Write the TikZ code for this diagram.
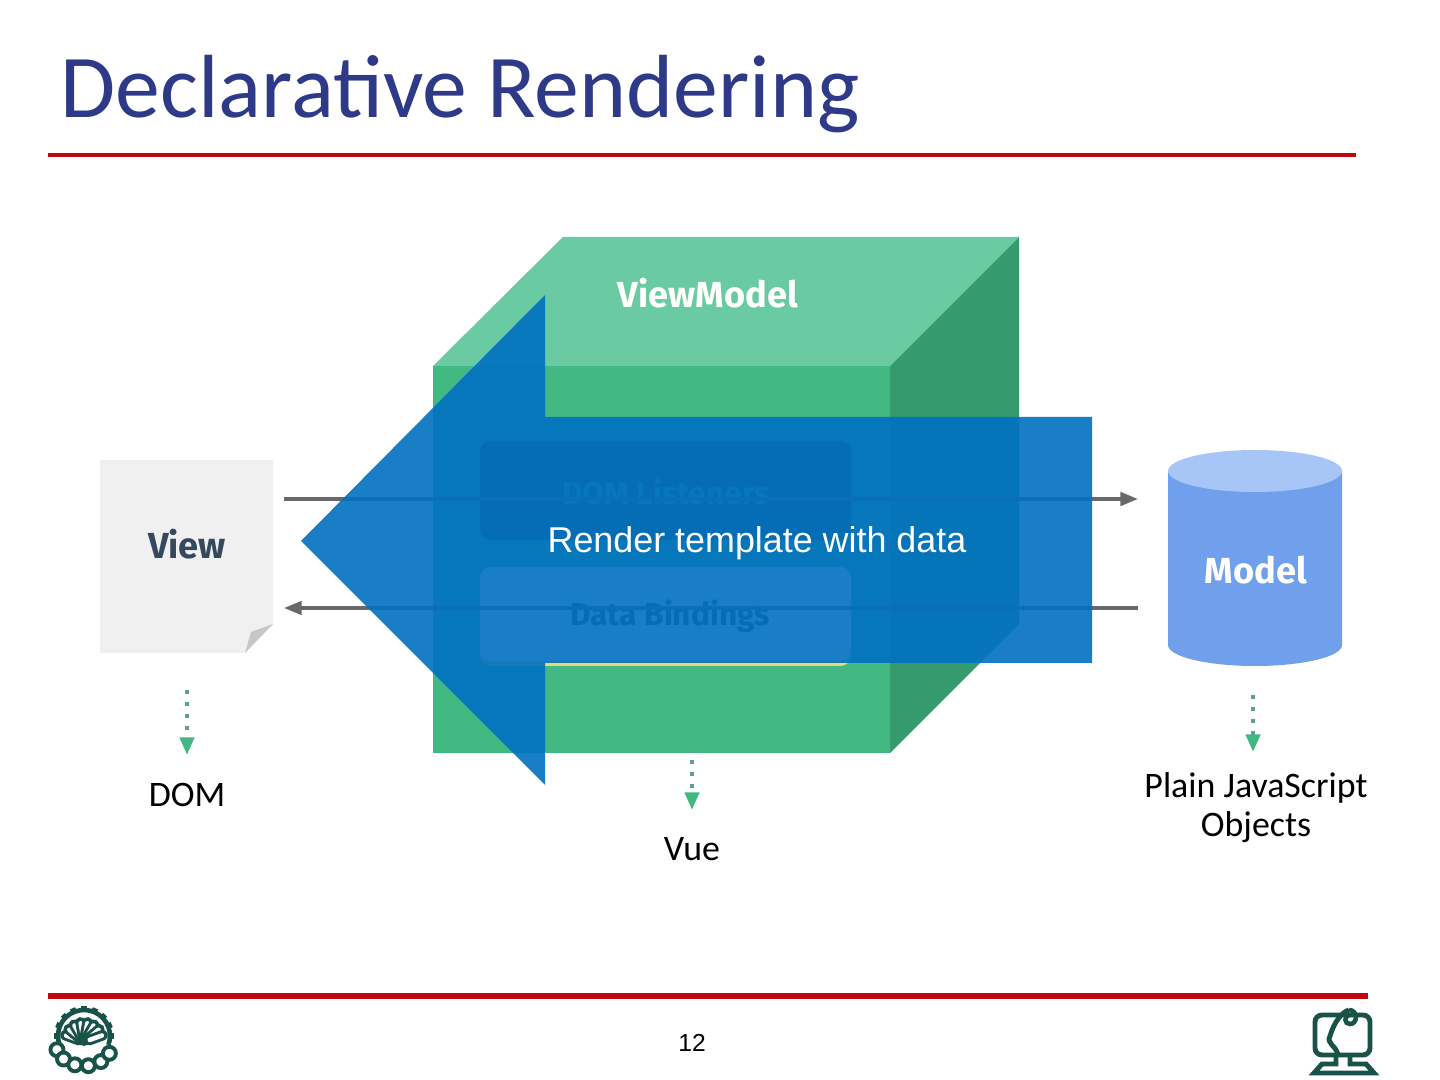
\documentclass[tikz,border=0pt]{standalone}
\usepackage{fontspec}
\setmainfont{Carlito}
\newfontfamily\labelfont{Fira Sans}
\newfontfamily\arialfont{Liberation Sans}
\usetikzlibrary{arrows.meta,positioning}

\definecolor{titleblue}{RGB}{46,58,135}
\definecolor{rulered}{RGB}{192,8,16}
\definecolor{vuegreen}{RGB}{66,184,131}
\definecolor{vuetop}{RGB}{106,202,161}
\definecolor{vueside}{RGB}{54,154,111}
\definecolor{slate}{RGB}{53,73,94}
\definecolor{pagegray}{RGB}{240,240,240}
\definecolor{foldgray}{RGB}{198,198,198}
\definecolor{linkgray}{RGB}{105,105,105}
\definecolor{dbblue}{RGB}{112,160,236}
\definecolor{dbtop}{RGB}{167,197,246}
\definecolor{arrowblue}{RGB}{0,112,192}
\definecolor{dotteal}{RGB}{95,160,150}
\definecolor{logoteal}{RGB}{24,82,72}
\definecolor{bindyellow}{RGB}{240,214,110}

\tikzset{every picture/.style={line width=0.75pt}}

\begin{document}
\begin{tikzpicture}[x=0.01cm,y=-0.01cm,
  slidetitle/.style={font=\fontsize{25.5}{30}\selectfont, text=titleblue, anchor=base west, inner sep=0pt},
  boldlabel/.style={font=\labelfont\bfseries\fontsize{10.3}{12}\selectfont, inner sep=0pt},
  boxlabel/.style={font=\labelfont\bfseries\fontsize{9}{11}\selectfont, inner sep=0pt},
  caption/.style={font=\fontsize{10.2}{12}\selectfont, inner sep=0pt},
  link/.style={draw=linkgray, line width=1pt, -{Triangle[length=5pt,width=3.8pt]}},
  dotdown/.style={draw=dotteal, line width=1.1pt, dash pattern=on 1.1pt off 2.3pt,
    -{Triangle[length=5pt,width=4pt,color=vuegreen]}},
  redrule/.style={draw=rulered, line width=1.2pt}]
\fill[white] (0,0) rectangle (1440,1080);
\useasboundingbox (0,0) rectangle (1440,1080);

% title and rules
\node[slidetitle] (title) at (59,118) {Declarative Rendering};
\draw[redrule] (48,155) -- (1356,155);
\draw[redrule, line width=1.5pt] (48,996) -- (1368,996);

% the cube
\fill[vuetop] (433,366) -- (563,237) -- (1019,237) -- (890,366) -- cycle;
\fill[vueside] (890,366) -- (1019,237) -- (1019,624) -- (890,753) -- cycle;
\fill[vuegreen] (433,366) rectangle (890,753);
\node[boldlabel, text=white] (vm) at (708,293) {ViewModel};

\fill[slate, rounded corners=3pt] (480,441) rectangle (851,540);
\node[boxlabel, text=vuegreen] (listen) at (666,492) {DOM Listeners};
\fill[bindyellow, rounded corners=3pt] (480,569) rectangle (851,666);
\fill[white, rounded corners=3pt] (480,567) rectangle (851,661);
\node[boxlabel, text=slate] (bind) at (670,616) {Data Bindings};

% view page
\fill[pagegray] (100,460) -- (273,460) -- (273,624) -- (245,653) -- (100,653) -- cycle;
\fill[foldgray] (273,624) -- (251,632) -- (245,653) -- cycle;
\node[boldlabel, text=slate] (view) at (187,544) {View};

% model cylinder
\fill[dbblue] (1168,471) -- (1168,645) arc[start angle=180, end angle=0, x radius=87, y radius=21] -- (1342,471) -- cycle;
\fill[dbtop] (1255,471) ellipse [x radius=87, y radius=21];
\node[boldlabel, text=white] (model) at (1256,570) {Model};

% links
\coordinate (viewOut) at (284,499);
\coordinate (modelIn) at (1138,499);
\coordinate (modelOut) at (1138,608);
\coordinate (viewIn) at (284,608);
\draw[link] (viewOut) -- (modelIn);
\draw[link] (modelOut) -- (viewIn);

% outputs
\node[caption] (dom) at (187,795) {DOM};
\node[caption] (vue) at (692,849) {Vue};
\node[caption, anchor=base] (plainjs) at (1256,797) {Plain JavaScript};
\node[caption, anchor=base] (objs) at (1256,836) {Objects};
\coordinate (viewFoot) at (187,690);
\coordinate (domTop) at (187,755);
\coordinate (cubeFoot) at (692,760);
\coordinate (vueTop) at (692,810);
\coordinate (modelFoot) at (1253,695);
\coordinate (plainTop) at (1253,752);
\draw[dotdown] (viewFoot) -- (domTop);
\draw[dotdown] (cubeFoot) -- (vueTop);
\draw[dotdown] (modelFoot) -- (plainTop);

% big render arrow
\fill[arrowblue, fill opacity=0.9] (301,541) -- (545,295) -- (545,417) -- (1092,417)
  -- (1092,663) -- (545,663) -- (545,785) -- cycle;
\node[font=\arialfont\fontsize{10.2}{12}\selectfont, text=white, inner sep=0pt] (render) at (757,543) {Render template with data};

% footer
\node[font=\arialfont\fontsize{7}{8}\selectfont, inner sep=0pt] (pagenum) at (692,1043) {12};

% left logo
\draw[logoteal, line width=1.3pt] (84,1036) ++(160:26) arc[start angle=160, end angle=380, radius=26];
\foreach \a in {180,202.5,...,360}
  \draw[logoteal, line width=1.6pt] (84,1036) ++(\a:25) -- ++(\a:5);
\foreach \a in {200,220,...,340} {
  \draw[logoteal, line width=3pt, line cap=round] (84,1042) ++(\a:5) -- ++(\a:15);
  \draw[white, line width=1.3pt, line cap=round] (84,1042) ++(\a:6) -- ++(\a:13);
}
\fill[logoteal] (84,1042) circle (4);
\foreach \a in {165,137,109,81,53,25}
  \draw[logoteal, line width=1.1pt, fill=white] ({84+28*cos(\a)},{1044+22*sin(\a)}) circle (6.5);

% right logo
\draw[logoteal, line width=1.4pt, rounded corners=2pt] (1315,1015) rectangle (1370,1055);
\draw[logoteal, line width=1.4pt] (1336,1055) -- (1336,1064) -- (1322,1064) -- (1314,1073) -- (1374,1073) -- (1366,1064) -- (1350,1064) -- (1350,1055);
\draw[logoteal, line width=1.4pt] (1338,1055) .. controls (1336,1045) and (1326,1044) .. (1330,1036)
  .. controls (1334,1022) and (1342,1012) .. (1349,1010);
\draw[logoteal, line width=1.3pt] (1349,1010) .. controls (1358,1010) and (1358,1024) .. (1350,1024)
  .. controls (1344,1024) and (1344,1016) .. (1349,1015);
\end{tikzpicture}
\end{document}
